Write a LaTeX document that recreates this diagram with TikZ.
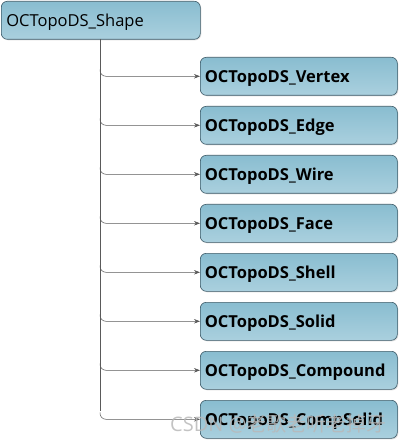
\documentclass[tikz,border=0pt]{standalone}
\usepackage{fontspec}
\setmainfont{Open Sans}
\newfontfamily\cjk{Noto Sans CJK SC}
\usetikzlibrary{arrows.meta,shadows,calc}
\definecolor{boxtop}{HTML}{89BDD0}
\definecolor{boxbot}{HTML}{AAD0DE}
\definecolor{boxline}{HTML}{3E5B68}
\definecolor{linecol}{HTML}{5A5A5A}
\tikzset{
  topobox/.style={draw=boxline, line width=0.6pt, rounded corners=6pt,
    top color=boxtop, bottom color=boxbot, anchor=north west,
    minimum height=38pt, inner sep=0pt, text depth=0pt,
    drop shadow={shadow xshift=1pt, shadow yshift=-1pt, opacity=0.25}},
  rootbox/.style={topobox, minimum width=199pt, font=\fontsize{16.5}{19}\selectfont, align=left},
  childbox/.style={topobox, minimum width=197pt, font=\bfseries\fontsize{16.5}{19}\selectfont},
  branch/.style={draw=linecol, line width=0.5pt, rounded corners=6pt,
    -{Stealth[length=6pt,width=4.5pt]}},
  trunkline/.style={draw=linecol, line width=0.5pt}
}
\begin{document}
\begin{tikzpicture}[x=1pt,y=-1pt]
\useasboundingbox (0,0) rectangle (401,443);
\node[rootbox] (root) at (1,1) {\makebox[195pt][l]{\hspace{3pt}OCTopoDS\_Shape}};
\coordinate (trunk) at (100,39);
\foreach \n/\t [count=\i from 0] in {vertex/Vertex,edge/Edge,wire/Wire,face/Face,shell/Shell,solid/Solid,compound/Compound,compsolid/CompSolid}{
  \node[childbox] (\n) at (200,{57+49*\i}) {\makebox[190pt][l]{\hspace{1pt}OCTopoDS\_\t}};
}
\coordinate (tend) at ($(trunk|-compsolid.west)+(0,-8)$);
\draw[trunkline] (trunk) -- (tend);
\foreach \n in {vertex,edge,wire,face,shell,solid,compound,compsolid}{
  \coordinate (k\n) at ($(trunk|-\n.west)+(0,-7)$);
  \draw[branch] (k\n) |- (\n.west);
}
\node[text=gray!55, opacity=0.85, font=\fontsize{20}{22}\selectfont, anchor=west, inner sep=0pt] (wm) at (170,424) {CSDN @{\cjk 老歌老听老掉牙}};
\end{tikzpicture}
\end{document}
